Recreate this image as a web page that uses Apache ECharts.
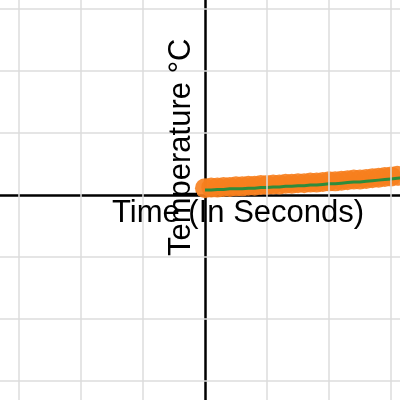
<!DOCTYPE html>
<html><head><meta charset="utf-8">
<style>html,body{margin:0;padding:0;background:#fff}#root{width:400px;height:400px}</style>
<script src="https://cdn.jsdelivr.net/npm/echarts@6/dist/echarts.min.js"></script>
</head><body><div id="root"></div>
<script>
const timeX = [0, 0.1, 0.2, 0.3, 0.4, 0.5, 0.6, 0.7, 0.8, 0.9, 1.0, 1.1, 1.2, 1.3, 1.4, 1.5, 1.6, 1.7, 1.8, 1.9, 2.0, 2.1, 2.2, 2.3, 2.4, 2.5, 2.6, 2.7, 2.8, 2.9, 3.0, 3.1, 3.2];
const tempOrange = [0.11, 0.12, 0.12, 0.13, 0.13, 0.14, 0.14, 0.15, 0.15, 0.16, 0.16, 0.17, 0.17, 0.18, 0.18, 0.19, 0.19, 0.20, 0.20, 0.21, 0.22, 0.22, 0.23, 0.24, 0.25, 0.25, 0.26, 0.27, 0.28, 0.29, 0.30, 0.31, 0.32];
const tempGreen = [0.08, 0.08, 0.09, 0.09, 0.10, 0.10, 0.10, 0.11, 0.11, 0.12, 0.12, 0.13, 0.13, 0.14, 0.14, 0.15, 0.15, 0.16, 0.16, 0.17, 0.18, 0.18, 0.19, 0.20, 0.21, 0.21, 0.22, 0.23, 0.24, 0.25, 0.26, 0.27, 0.28];
const gridXs = [-3, -2, -1, 1, 2, 3];
const gridYs = [-3, -2, -1, 1, 2, 3];

const chart = echarts.init(document.getElementById('root'));
const axisLine = { onZero: true, lineStyle: { color: '#000', width: 2.5 } };
const hidden = { axisTick: { show: false }, axisLabel: { show: false }, splitLine: { show: false } };

chart.setOption({
  animation: false,
  grid: { left: 0, right: 0, top: 0, bottom: 0 },
  xAxis: { type: 'value', min: -3.306, max: 3.145, axisLine, ...hidden },
  yAxis: { type: 'value', min: -3.306, max: 3.145, axisLine, ...hidden },
  series: [
    {
      type: 'line', data: [], silent: true, z: 0,
      markLine: {
        symbol: 'none', label: { show: false }, silent: true,
        lineStyle: { color: '#dcdcdc', width: 1.5, type: 'solid' },
        data: [...gridXs.map(v => ({ xAxis: v })), ...gridYs.map(v => ({ yAxis: v }))]
      }
    },
    { type: 'line', data: timeX.map((x, i) => [x, tempGreen[i]]), symbol: 'none', lineStyle: { color: '#2d8c3c', width: 3 } },
    { type: 'scatter', data: timeX.map((x, i) => [x, tempOrange[i]]), symbolSize: 20, itemStyle: { color: '#f7801e', opacity: 0.9 } }
  ],
  graphic: [
    { type: 'text', left: 112, top: 198, z: 100, style: { text: 'Time (In Seconds)', font: '31px "Liberation Sans", Arial', fill: '#000' } },
    { type: 'text', x: 166, y: 256, rotation: Math.PI / 2, z: 100, style: { text: 'Temperature °C', font: '31px "Liberation Sans", Arial', fill: '#000' } }
  ]
});
</script></body></html>
